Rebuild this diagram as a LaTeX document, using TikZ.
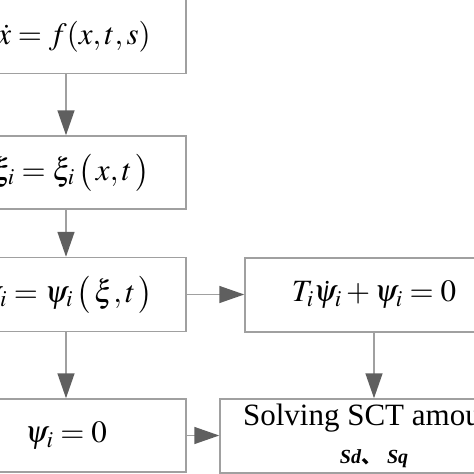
\documentclass[tikz,border=0pt]{standalone}
\usepackage{mathptmx}
\usepackage{fontspec}
\setmainfont{Liberation Serif}
\newfontfamily\cjk{Noto Sans CJK SC}
\usetikzlibrary{calc,positioning,arrows.meta}
\definecolor{garis}{RGB}{160,160,160}
\definecolor{panah}{RGB}{95,95,95}
\tikzset{
	kotak/.style={draw=garis, line width=1.5pt, minimum width=240pt, minimum height=74pt, inner sep=0pt, font=\fontsize{31}{36}\selectfont},
	alir/.style={draw=garis, line width=1.5pt, -{Triangle[length=25pt,width=17pt,fill=panah,color=panah]}}
}

\begin{document}
\begin{tikzpicture}[x=1pt,y=-1pt]

\useasboundingbox (0,0) rectangle (474,474);
\clip (0,0) rectangle (474,474);

% kotak kiri
\node[kotak] (persamaan) at (66,36.5) {\hspace{16pt}$\dot{x}=f(x,t,s)$};
\node[kotak, minimum height=73pt] (xi) at (66,172.5) {\hspace{10pt}$\xi_i=\xi_i\,\bigl(\,x,t\,\bigr)$};
\node[kotak] (psi) at (66,294.5) {$\psi_i=\psi_i\,\bigl(\,\xi,t\,\bigr)$};
\node[kotak, minimum height=73pt] (nol) at (66,435.5) {$\psi_i=0$};

% kotak kanan
\node[kotak, minimum width=258pt] (dinamik) at (374,295) {$T_i\dot{\psi}_i+\psi_i=0$};
\node[kotak, minimum width=308pt, minimum height=74pt, align=center] (hasil) at (374,436)
	{Solving SCT amount\\[2pt]{\fontsize{20}{22}\selectfont\bfseries\itshape Sd{\cjk 、}\hspace{6pt}Sq}};

% panah
\draw[alir] (persamaan) -- (xi);
\draw[alir] (xi) -- (psi);
\draw[alir] (psi) -- (nol);
\draw[alir] (psi.east) -- (psi.east -| dinamik.west);
\draw[alir] (dinamik) -- (hasil);
\draw[alir] (nol.east) -- (nol.east -| hasil.west);

\end{tikzpicture}
\end{document}
